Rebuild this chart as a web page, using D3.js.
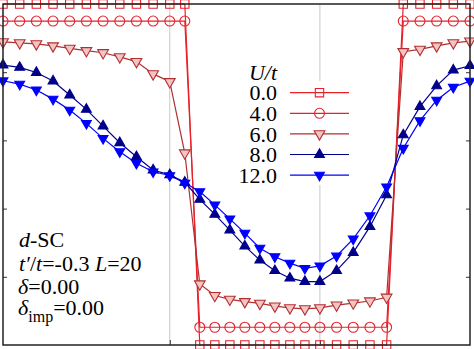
<!DOCTYPE html>
<html><head><meta charset="utf-8">
<script src="https://cdn.jsdelivr.net/npm/d3@7"></script>
<style>html,body{margin:0;padding:0;background:#fff;}svg{display:block;}</style>
</head><body>
<svg id="chart" width="474" height="349"></svg>
<script>
// k-path coordinate of each point (Γ→X, X→M, M→Γ segment, as plotted)
const kpos = [0,1,2,3,4,5,6,7,8,9,10,
  10.9,11.8,12.7,13.6,14.5,15.4,16.3,17.2,18.1,19.0,
  20,21,22,23,24,25,26,27,28];
const kMarks = [10, 19];
const yTicks = [0.2, 0.4, 0.6, 0.8];
const uLabels = ["0.0", "4.0", "6.0", "8.0", "12.0"];

const nU0 = [1,1,1,1,1,1,1,1,1,1,1,1, 0,0,0,0,0,0,0,0,0,0,0,0,0, 1,1,1,1,1];
const nU4 = [0.95,0.95,0.95,0.95,0.95,0.95,0.95,0.95,0.95,0.95,0.95,0.95,
  0.052,0.052,0.052,0.052,0.052,0.052,0.052,0.052,0.052,0.052,0.052,0.052,0.052,
  0.95,0.95,0.95,0.95,0.95];
const nU6 = [0.889,0.886,0.883,0.877,0.870,0.863,0.857,0.845,0.831,0.795,0.772,0.563,
  0.179,0.145,0.134,0.127,0.122,0.114,0.109,0.106,0.109,0.117,0.123,0.129,0.140,
  0.860,0.867,0.877,0.886,0.891];
const nU8 = [0.821,0.814,0.799,0.774,0.733,0.691,0.642,0.593,0.552,0.513,0.499,0.477,
  0.427,0.383,0.337,0.290,0.249,0.218,0.196,0.186,0.186,0.218,0.271,0.347,0.440,
  0.616,0.699,0.760,0.806,0.819];
const nU12 = [0.775,0.765,0.748,0.721,0.689,0.650,0.606,0.567,0.533,0.508,0.497,0.475,
  0.450,0.411,0.370,0.328,0.284,0.259,0.240,0.225,0.232,0.261,0.311,0.379,0.464,
  0.577,0.658,0.718,0.756,0.774];

const series = [
  {label: uLabels[0], values: nU0, color: "#e8202a", fill: "none", sym: d3.symbolSquare, size: 70, rot: 0},
  {label: uLabels[1], values: nU4, color: "#e8202a", fill: "none", sym: d3.symbolCircle, size: 78, rot: 0},
  {label: uLabels[2], values: nU6, color: "#b03030", fill: "#f4c4c4", sym: d3.symbolTriangle, size: 50, rot: 180},
  {label: uLabels[3], values: nU8, color: "#00008b", fill: "#00008b", sym: d3.symbolTriangle, size: 42, rot: 0},
  {label: uLabels[4], values: nU12, color: "#0000ff", fill: "#0000ff", sym: d3.symbolTriangle, size: 42, rot: 180}
];

const svg = d3.select("#chart");
const L = 3, R = 470, T = 4, B = 345;
const x = d3.scaleLinear().domain([0, 28]).range([L, R]);
const y = d3.scaleLinear().domain([0, 1]).range([B, T]);

// grid lines at symmetry points
svg.append("g").selectAll("line").data(kMarks).join("line")
  .attr("x1", d => x(d)).attr("x2", d => x(d)).attr("y1", T).attr("y2", B)
  .attr("stroke", "#c8c8c8").attr("stroke-width", 1);

// axes ticks (inward)
const axL = d3.axisRight(y).tickValues(yTicks).tickSize(4).tickFormat("");
const axR = d3.axisLeft(y).tickValues(yTicks).tickSize(4).tickFormat("");
const axB = d3.axisTop(x).tickValues(kMarks).tickSize(5).tickFormat("");
[ [axL, `translate(${L},0)`], [axR, `translate(${R},0)`], [axB, `translate(0,${B})`] ].forEach(([ax, tr]) => {
  const g = svg.append("g").attr("transform", tr).call(ax);
  g.select(".domain").remove();
  g.selectAll("line").attr("stroke", "#333").attr("stroke-width", 1);
});

// legend background
const legend = svg.append("g");
legend.append("rect").attr("x", 236).attr("y", 81).attr("width", 118).attr("height", 104).attr("fill", "#fff");

// series
const line = d3.line().x((d, i) => x(kpos[i])).y(d => y(d));
series.forEach(s => {
  svg.append("path").datum(s.values).attr("d", line)
    .attr("fill", "none").attr("stroke", s.color).attr("stroke-width", 1.2);
});
series.forEach(s => {
  const sym = d3.symbol().type(s.sym).size(s.size);
  svg.append("g").selectAll("path").data(s.values).join("path")
    .attr("d", sym)
    .attr("transform", (d, i) => `translate(${x(kpos[i])},${y(d)}) rotate(${s.rot})`)
    .attr("fill", s.fill).attr("stroke", s.color).attr("stroke-width", 1.1);
});

// frame
svg.append("rect").attr("x", L).attr("y", T).attr("width", R - L).attr("height", B - T)
  .attr("fill", "none").attr("stroke", "#222").attr("stroke-width", 1.5);

// legend content
const font = "'Liberation Serif','Times New Roman',serif";
legend.append("text").attr("x", 277).attr("y", 80).attr("text-anchor", "end")
  .attr("font-family", font).attr("font-size", 22).attr("font-style", "italic").text("U/t");
const rowY = i => 92.7 + i * 20.6;
series.forEach((s, i) => {
  const g = legend.append("g");
  g.append("text").attr("x", 277).attr("y", rowY(i)).attr("dy", "0.35em").attr("text-anchor", "end")
    .attr("font-family", font).attr("font-size", 22).text(s.label);
  g.append("line").attr("x1", 290).attr("x2", 349).attr("y1", rowY(i)).attr("y2", rowY(i))
    .attr("stroke", s.color).attr("stroke-width", 1.2);
  g.append("path").attr("d", d3.symbol().type(s.sym).size(s.size))
    .attr("transform", `translate(319.5,${rowY(i)}) rotate(${s.rot})`)
    .attr("fill", s.fill).attr("stroke", s.color).attr("stroke-width", 1.1);
});

// annotation
const ann = svg.append("g").attr("font-family", font).attr("font-size", 22);
const t1 = ann.append("text").attr("x", 19).attr("y", 247);
t1.append("tspan").attr("font-style", "italic").text("d");
t1.append("tspan").text("-SC");
const t2 = ann.append("text").attr("x", 19).attr("y", 271);
t2.append("tspan").attr("font-style", "italic").text("t′");
t2.append("tspan").text("/");
t2.append("tspan").attr("font-style", "italic").text("t");
t2.append("tspan").text("=-0.3 ");
t2.append("tspan").attr("font-style", "italic").text("L");
t2.append("tspan").text("=20");
const t3 = ann.append("text").attr("x", 18).attr("y", 294);
t3.append("tspan").attr("font-style", "italic").text("δ");
t3.append("tspan").text("=0.00");
const t4 = ann.append("text").attr("x", 18).attr("y", 315);
t4.append("tspan").attr("font-style", "italic").text("δ");
t4.append("tspan").attr("font-size", 16).attr("dy", 7).text("imp");
t4.append("tspan").attr("dy", -7).text("=0.00");
</script>
</body></html>
